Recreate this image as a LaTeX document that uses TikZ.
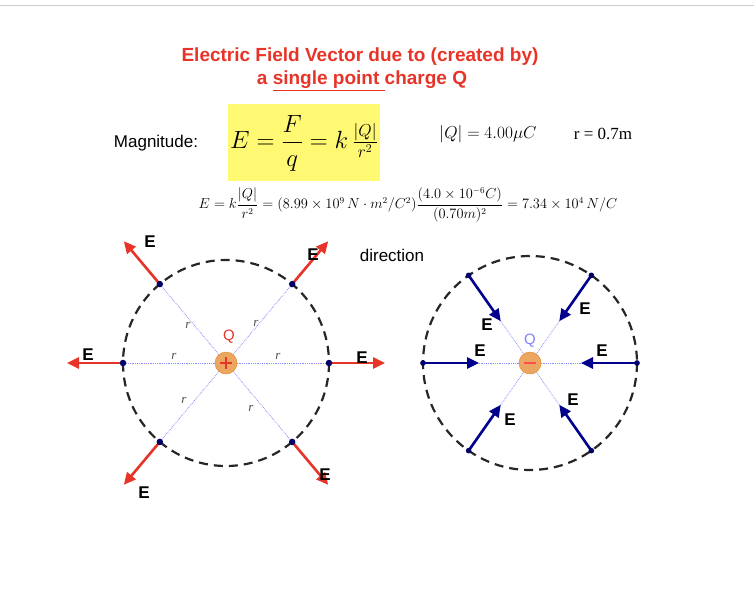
\documentclass[tikz,border=0pt]{standalone}
\usepackage{amsmath}
\usepackage{fontspec}
\setmainfont{Liberation Serif}
\setsansfont{Liberation Sans}
\usetikzlibrary{arrows.meta,calc}
\definecolor{titlered}{RGB}{232,52,40}
\tikzset{
    % Circle and radius styles
    shell/.style={line width=2.2pt, black!85, dash pattern=on 9pt off 6pt},
    radius/.style={densely dotted, blue!45, line width=0.8pt},
    dot/.style={circle, fill=blue!40!black, inner sep=2.3pt},
    % Field vectors
    vec out/.style={-{Triangle[length=12pt,width=11pt]}, line width=2.6pt, titlered},
    vec in/.style={-{Triangle[length=12pt,width=11pt]}, line width=2.6pt, blue!55!black},
    % Labels
    E label/.style={font=\sffamily\bfseries\fontsize{17}{19}\selectfont},
    r label/.style={font=\itshape\fontsize{13}{15}\selectfont, black!70},
    charge/.style={circle, fill=orange!55!brown!70, draw=orange!60!brown, minimum size=22pt, inner sep=0pt},
}
\begin{document}
\begin{tikzpicture}[x=1pt,y=-1pt]
    \useasboundingbox (0,0) rectangle (754,598);
    \draw[gray!40] (0,5) -- (754,5);

    % Title
    \node[font=\sffamily\bfseries\fontsize{19}{22}\selectfont, titlered] (title1) at (360,57) {Electric Field Vector due to (created by)};
    \node[font=\sffamily\bfseries\fontsize{19}{22}\selectfont, titlered] (title2) at (362,81) {a \underline{single point }charge Q};

    % Formulas
    \node[font=\sffamily\fontsize{17}{20}\selectfont] (mag) at (156,143) {Magnitude:};
    \fill[yellow!55] (228,104) rectangle (380,181);
    \node[font=\fontsize{23}{28}\selectfont] (form) at (304,143) {$E=\dfrac{F}{q}=k\,\frac{|Q|}{r^2}$};
    \node[font=\fontsize{18}{22}\selectfont] (qval) at (488,134) {$|Q| = 4.00\mu C$};
    \node[font=\fontsize{17}{21}\selectfont] (rval) at (603,134) {r = 0.7m};
    \node[font=\fontsize{13.5}{16}\selectfont] (calc) at (408,205) {$E=k\dfrac{|Q|}{r^2}=(8.99\times10^9\,N\cdot m^2/C^2)\dfrac{(4.0\times10^{-6}C)}{(0.70m)^2}=7.34\times10^4\,N/C$};
    \node[font=\sffamily\fontsize{17}{20}\selectfont] (dir) at (392,255) {direction};

    % Positive charge, field out
    \begin{scope}[shift={(226,363)}]
        \draw[shell] (0,0) circle (103);
        \foreach \a/\n in {0/a,50/b,130/c,180/d,230/e,310/f} {
            \coordinate (o\n) at (\a:103);
            \draw[radius] (0,0) -- (o\n);
            \draw[vec out] (o\n) -- ($(\a:103)+(\a:56)$) coordinate (t\n);
            \node[dot] at (o\n) {};
        }
        \node[charge] (Qp) at (0,0) {};
        \draw[titlered, line width=2pt] (-6,0) -- (6,0) (0,-6) -- (0,6);
        \node[titlered, font=\sffamily\fontsize{15}{17}\selectfont] (qp) at (3,-26) {Q};
        \node[E label] at (136,-5) {E};
        \node[E label] at (87,-108) {E};
        \node[E label] at (-76,-121) {E};
        \node[E label] at (-138,-8) {E};
        \node[E label] at (-82,130) {E};
        \node[E label] at (99,112) {E};
        \node[r label] at (52,-7) {r};
        \node[r label] at (-52,-7) {r};
        \node[r label] at (30,-40) {r};
        \node[r label] at (-38,-38) {r};
        \node[r label] at (-42,37) {r};
        \node[r label] at (25,45) {r};
    \end{scope}

    % Negative charge, field in
    \begin{scope}[shift={(530,363)}]
        \draw[shell] (0,0) circle (107);
        \foreach \a/\n in {0/a,55/b,125/c,180/d,235/e,305/f} {
            \coordinate (i\n) at (\a:107);
            \draw[radius] (0,0) -- (i\n);
            \draw[vec in] (i\n) -- ($(\a:107)+(\a:-56)$) coordinate (s\n);
            \node[dot, inner sep=2pt] at (i\n) {};
        }
        \node[charge] (Qn) at (0,0) {};
        \draw[red!70, line width=1.5pt] (-6,0) -- (6,0);
        \node[blue!50, font=\sffamily\fontsize{15}{17}\selectfont] (qn) at (0,-22) {Q};
        \node[E label] at (72,-12) {E};
        \node[E label] at (-50,-12) {E};
        \node[E label] at (55,-54) {E};
        \node[E label] at (-43,-38) {E};
        \node[E label] at (43,37) {E};
        \node[E label] at (-20,57) {E};
    \end{scope}
\end{tikzpicture}
\end{document}
